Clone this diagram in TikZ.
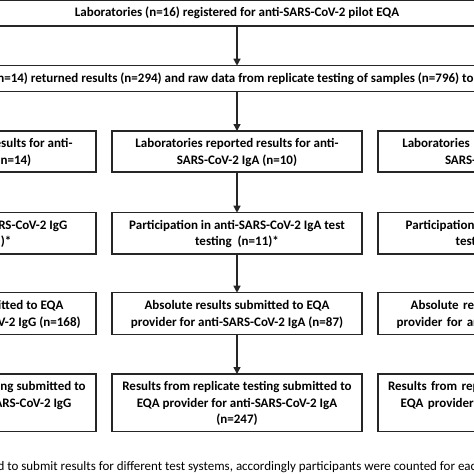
\documentclass[tikz,border=0pt]{standalone}
\usepackage{fontspec}
\setmainfont{Carlito}
\usetikzlibrary{arrows.meta}
\definecolor{linec}{HTML}{262626}
\newcommand\sr{\rule[-3.5pt]{0pt}{15.8pt}}
\begin{document}
\begin{tikzpicture}[x=1pt,y=-1pt,
  every node/.style={inner sep=0pt, outer sep=0pt},
  bfont/.style={font=\bfseries\fontsize{13pt}{16.3pt}\selectfont},
  bx/.style={bfont, draw=linec, line width=1.4pt, minimum width=250pt, align=center},
  bxr/.style={bfont, draw=linec, line width=1.4pt, minimum width=250pt, text width=250pt, align=left},
  wide/.style={bfont, draw=linec, line width=1.4pt, minimum width=800pt},
  arr/.style={draw=linec, line width=1.4pt, -{Triangle[width=7pt,length=7pt]}},
  note/.style={font=\fontsize{13pt}{15pt}\selectfont}]
\useasboundingbox (0,0) rectangle (474,474);
\clip (0,0) rectangle (474,474);
\fill[white] (0,0) rectangle (474,474);

% full-width boxes
\node[wide, minimum height=25.5pt] (b1) at (237,13.25) {Laboratories (n=16) registered for anti-SARS-CoV-2 pilot EQA};
\node[wide, minimum height=26pt] (b2) at (237,78.7) {};
\node[bfont, anchor=base east] (t2) at (473.5,82.5) {(n=14) returned results (n=294) and raw data from replicate testing of samples (n=796) to};

% left column
\node[bx, minimum height=41pt] (l1) at (-29,151.5) {Laboratories reported results for anti-\sr\\SARS-CoV-2 IgG (n=14)\sr};
\node[bx, minimum height=41.3pt] (l2) at (-29,233.35) {Participation in anti-SARS-CoV-2 IgG\sr\\\phantom{testing (n=00})*\sr};
\node[bx, minimum height=41.6pt] (l3) at (-29,313.5) {Absolute results submitted to EQA\sr\\provider for anti-SARS-CoV-2 IgG (n=168)\sr};
\node[bx, minimum height=57.7pt] (l4) at (-29,402.85) {Results from replicate testing submitted to\sr\\EQA provider for anti-SARS-CoV-2 IgG\sr\\\phantom{(n=000)}\sr};

% middle column
\node[bx, minimum height=41pt] (m1) at (237,151.5) {Laboratories reported results for anti-\sr\\SARS-CoV-2 IgA (n=10)\sr};
\node[bx, minimum height=41.3pt] (m2) at (237,233.35) {Participation in anti-SARS-CoV-2 IgA test\sr\\testing\ \ (n=11)*\sr};
\node[bx, minimum height=41.6pt] (m3) at (237,313.5) {Absolute results submitted to EQA\sr\\provider for anti-SARS-CoV-2 IgA (n=87)\sr};
\node[bx, minimum height=57.7pt] (m4) at (237,402.85) {Results from replicate testing submitted to\sr\\EQA provider for anti-SARS-CoV-2 IgA\sr\\(n=247)\sr};

% right column
\node[bxr, minimum height=41pt] (r1) at (503,151.5) {\hspace*{24.3pt}\rlap{Laboratories reported}\sr\\\hspace*{67pt}\rlap{SARS-CoV-2}\sr};
\node[bxr, minimum height=41.3pt] (r2) at (503,233.35) {\hspace*{27.7pt}\rlap{Participation in}\sr\\\hspace*{77.7pt}\rlap{testing}\sr};
\node[bxr, minimum height=41.6pt] (r3) at (503,313.5) {\hspace*{32.7pt}\rlap{Absolute results}\sr\\\hspace*{18.7pt}\rlap{provider for anti-}\sr};
\node[bxr, minimum height=57.7pt] (r4) at (503,402.85) {\hspace*{10pt}\rlap{Results from replicate}\sr\\\hspace*{22.7pt}\rlap{EQA provider for}\sr\\\sr};

% footnote
\node[note, anchor=base west] (fn) at (7.3,470) {\llap{d\ }to submit results for different test systems, accordingly participants were counted for each};

% arrows
\draw[arr] (b1) -- (b2);
\draw[arr] (b2) -- (m1);
\draw[arr] (m1) -- (m2);
\draw[arr] (m2) -- (m3);
\draw[arr] (m3) -- (m4);
\end{tikzpicture}
\end{document}
